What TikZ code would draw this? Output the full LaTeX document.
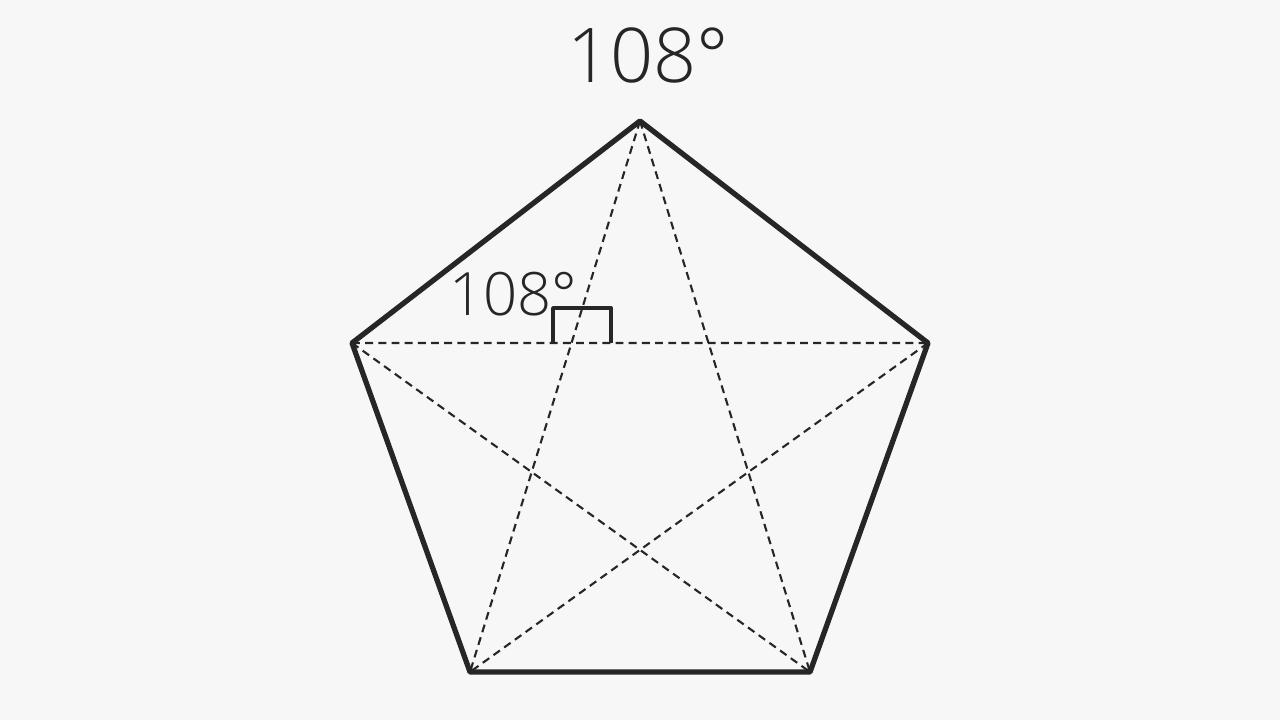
\documentclass[tikz,border=0pt]{standalone}
\usepackage{fontspec}
\setmainfont{Open Sans Light}
\definecolor{bg}{HTML}{F7F7F7}
\definecolor{ink}{HTML}{262626}

\begin{document}
\begin{tikzpicture}[x = 0.02cm, y = -0.02cm, line join = round]
\fill [bg] (0,0) rectangle (1280,720);
\coordinate (t) at (640,121);
\coordinate (l) at (352,343);
\coordinate (r) at (928,343);
\coordinate (bl) at (470,672);
\coordinate (br) at (810,672);
\draw [ink, dash pattern = on 4.5pt off 3pt, line width = 1.2pt] (l) -- (r) (t) -- (bl) (t) -- (br) (l) -- (br) (r) -- (bl);
\draw [ink, line width = 3pt] (t) -- (r) -- (br) -- (bl) -- (l) -- cycle;
\draw [ink, line width = 2.2pt] (553,343) -- (553,308) -- (611,308) -- (611,343);
\node [ink, font = \fontsize{43}{48}\selectfont] (top) at (648,55) {108°};
\node [ink, font = \fontsize{34}{38}\selectfont] (inner) at (513,294) {108°};
\end{tikzpicture}
\end{document}
